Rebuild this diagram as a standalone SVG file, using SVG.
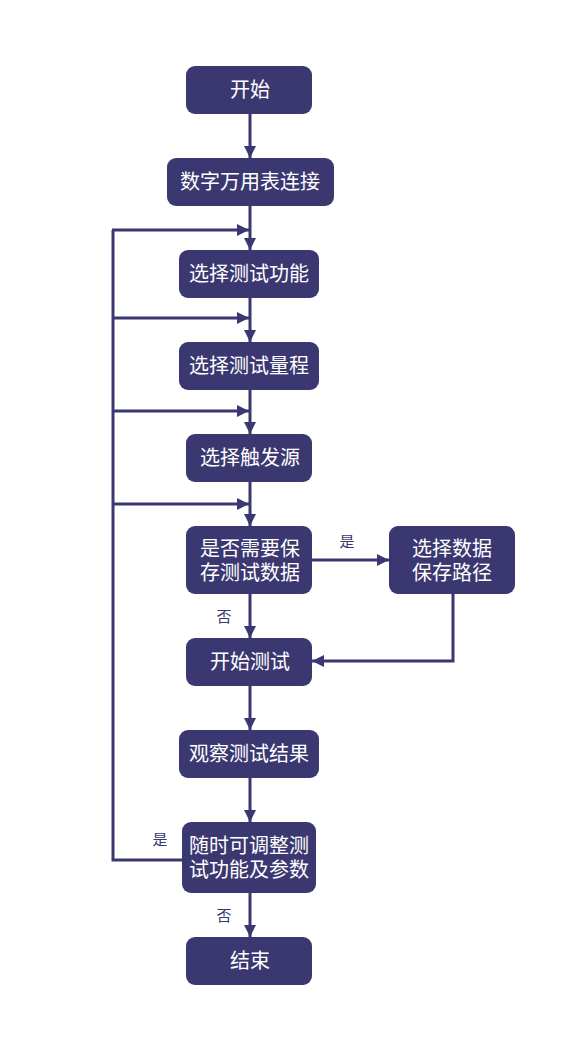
<svg xmlns="http://www.w3.org/2000/svg" width="567" height="1050" viewBox="0 0 567 1050">
<style>
.n{fill:#3b3871}
.t{fill:#ffffff;font-family:"Liberation Sans","Noto Sans CJK SC",sans-serif;font-size:20px;text-anchor:middle}
.l{fill:#3b3871;font-family:"Liberation Sans","Noto Sans CJK SC",sans-serif;font-size:15px;text-anchor:middle}
.c{stroke:#3b3871;stroke-width:3;fill:none}
</style>
<defs>
<marker id="a" markerWidth="12" markerHeight="12" viewBox="0 0 12 12" refX="12" refY="6" orient="auto" markerUnits="userSpaceOnUse">
<path d="M0,0 L12,6 L0,12 Z" fill="#3b3871"/>
</marker>
</defs>
<rect width="567" height="1050" fill="#ffffff"/>
<g id="connectors">
<line class="c" x1="250" y1="114" x2="250" y2="158" marker-end="url(#a)"/>
<line class="c" x1="250" y1="206" x2="250" y2="250" marker-end="url(#a)"/>
<line class="c" x1="250" y1="298" x2="250" y2="342" marker-end="url(#a)"/>
<line class="c" x1="250" y1="390" x2="250" y2="434" marker-end="url(#a)"/>
<line class="c" x1="250" y1="482" x2="250" y2="526" marker-end="url(#a)"/>
<line class="c" x1="250" y1="594" x2="250" y2="638" marker-end="url(#a)"/>
<line class="c" x1="250" y1="686" x2="250" y2="730" marker-end="url(#a)"/>
<line class="c" x1="250" y1="778" x2="250" y2="822" marker-end="url(#a)"/>
<line class="c" x1="250" y1="893" x2="250" y2="937" marker-end="url(#a)"/>
<line class="c" x1="312" y1="560" x2="389" y2="560" marker-end="url(#a)"/>
<polyline class="c" points="453,594 453,661 312,661" marker-end="url(#a)"/>
<polyline class="c" points="182,860 113,860 113,230"/>
<line class="c" x1="112" y1="230" x2="249" y2="230" marker-end="url(#a)"/>
<line class="c" x1="113" y1="318" x2="249" y2="318" marker-end="url(#a)"/>
<line class="c" x1="113" y1="411" x2="249" y2="411" marker-end="url(#a)"/>
<line class="c" x1="113" y1="504" x2="249" y2="504" marker-end="url(#a)"/>
<text class="l" x="347" y="547">是</text>
<text class="l" x="224" y="622">否</text>
<text class="l" x="160" y="845">是</text>
<text class="l" x="224" y="921">否</text>
</g>
<g id="n1"><rect class="n" x="186" y="66" width="126" height="48" rx="9"/><text class="t" x="250" y="97">开始</text></g>
<g id="n2"><rect class="n" x="167" y="158" width="167" height="48" rx="9"/><text class="t" x="250" y="189">数字万用表连接</text></g>
<g id="n3"><rect class="n" x="179" y="250" width="140" height="48" rx="9"/><text class="t" x="249" y="281">选择测试功能</text></g>
<g id="n4"><rect class="n" x="179" y="342" width="140" height="48" rx="9"/><text class="t" x="249" y="373">选择测试量程</text></g>
<g id="n5"><rect class="n" x="186" y="434" width="126" height="48" rx="9"/><text class="t" x="250" y="465">选择触发源</text></g>
<g id="n6"><rect class="n" x="186" y="526" width="126" height="68" rx="9"/><text class="t" x="250" y="556"><tspan x="250">是否需要保</tspan><tspan x="250" dy="24">存测试数据</tspan></text></g>
<g id="n7"><rect class="n" x="389" y="526" width="126" height="68" rx="9"/><text class="t" x="452" y="556"><tspan x="452">选择数据</tspan><tspan x="452" dy="24">保存路径</tspan></text></g>
<g id="n8"><rect class="n" x="186" y="638" width="126" height="48" rx="9"/><text class="t" x="250" y="669">开始测试</text></g>
<g id="n9"><rect class="n" x="179" y="730" width="140" height="48" rx="9"/><text class="t" x="249" y="761">观察测试结果</text></g>
<g id="n10"><rect class="n" x="182" y="822" width="134" height="71" rx="9"/><text class="t" x="249" y="853"><tspan x="249">随时可调整测</tspan><tspan x="249" dy="24">试功能及参数</tspan></text></g>
<g id="n11"><rect class="n" x="186" y="937" width="126" height="48" rx="9"/><text class="t" x="250" y="968">结束</text></g>
</svg>
